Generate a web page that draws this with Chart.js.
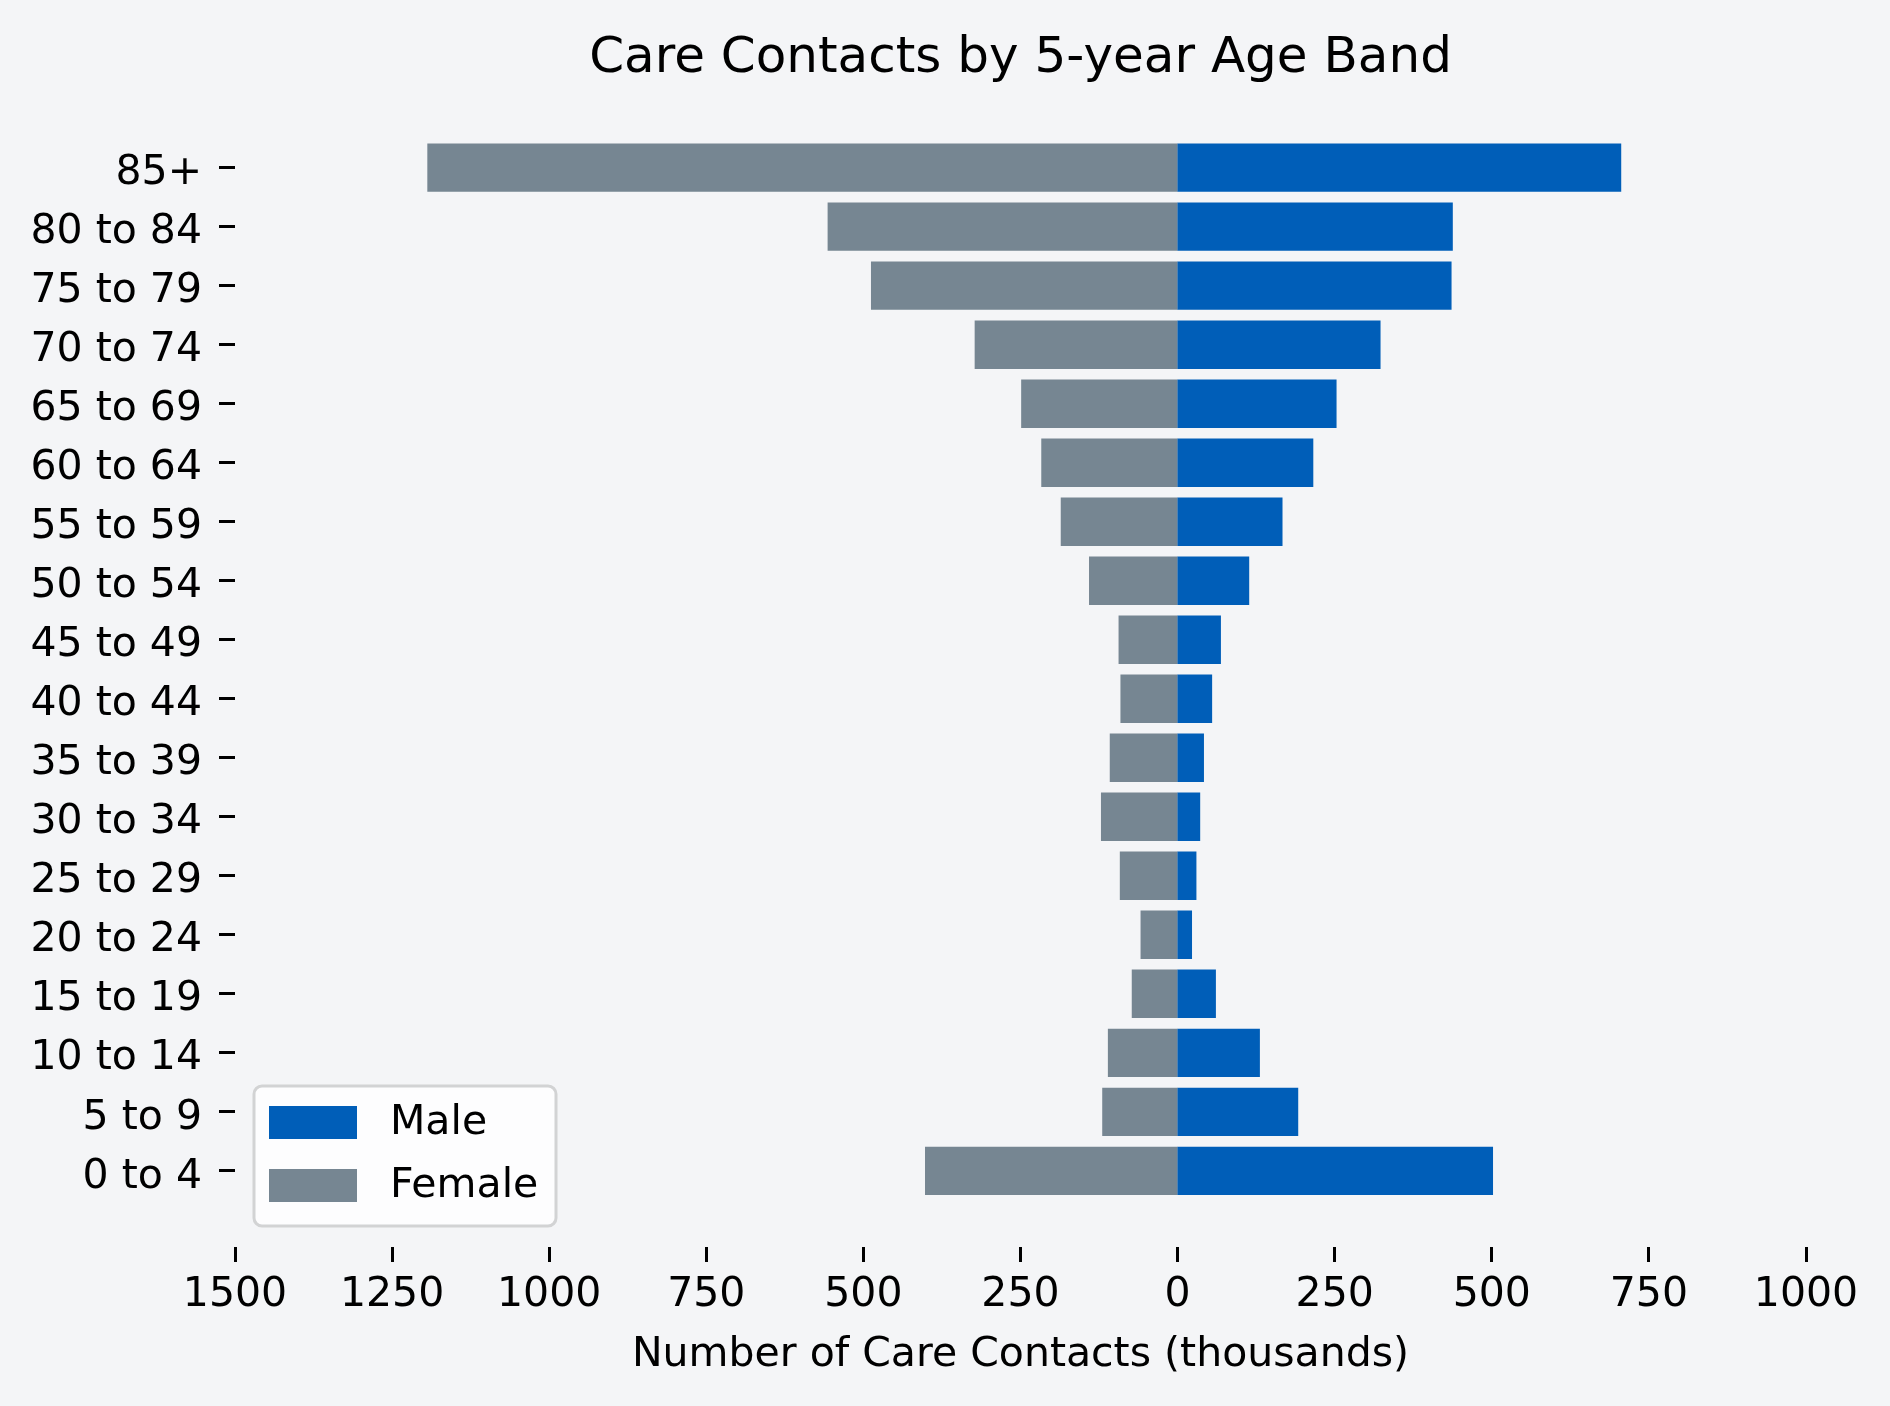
<!DOCTYPE html>
<html>
<head>
<meta charset="utf-8">
<script src="https://cdn.jsdelivr.net/npm/chart.js@4.4.1/dist/chart.umd.min.js"></script>
<style>
  html, body { margin: 0; padding: 0; background: #f4f5f7; }
  canvas { display: block; }
</style>
</head>
<body>
<canvas id="grafico" width="1890" height="1406"></canvas>
<script>
// faixas etárias, de baixo para cima
const ageBands = ["0 to 4", "5 to 9", "10 to 14", "15 to 19", "20 to 24", "25 to 29", "30 to 34",
  "35 to 39", "40 to 44", "45 to 49", "50 to 54", "55 to 59", "60 to 64", "65 to 69",
  "70 to 74", "75 to 79", "80 to 84", "85+"];
const maleContacts = [501, 191, 130, 60, 22, 29, 35, 41, 54, 68, 113, 166, 215, 252, 322, 435, 437, 705];
const femaleContacts = [401, 119, 110, 72, 58, 91, 121, 107, 90, 93, 140, 185, 216, 248, 322, 487, 556, 1193];
const xTicks = [-1500, -1250, -1000, -750, -500, -250, 0, 250, 500, 750, 1000];

const FONTE = "'DejaVu Sans', sans-serif";
const BG = "#f4f5f7";

// fundo da figura
const fundo = {
  id: "fundo",
  beforeDraw(chart) {
    const ctx = chart.ctx;
    ctx.save();
    ctx.fillStyle = BG;
    ctx.fillRect(0, 0, chart.width, chart.height);
    ctx.restore();
  }
};

// legenda dentro da área do gráfico, canto inferior esquerdo
const legendaInterna = {
  id: "legendaInterna",
  afterDraw(chart) {
    const ctx = chart.ctx;
    const x = 254, y = 1086, w = 302, h = 140, r = 8;
    ctx.save();
    ctx.beginPath();
    ctx.roundRect(x, y, w, h, r);
    ctx.fillStyle = "rgba(255,255,255,0.8)";
    ctx.fill();
    ctx.lineWidth = 3;
    ctx.strokeStyle = "#d2d3d4";
    ctx.stroke();
    ctx.font = "41px " + FONTE;
    ctx.textBaseline = "middle";
    ctx.textAlign = "left";
    chart.data.datasets.forEach((ds, i) => {
      const py = 1106 + i * 63;
      ctx.fillStyle = ds.backgroundColor;
      ctx.fillRect(269, py, 88, 33);
      ctx.fillStyle = "#000";
      ctx.fillText(ds.label, 390, py + 17);
    });
    ctx.restore();
  }
};

new Chart(document.getElementById("grafico"), {
  type: "bar",
  data: {
    datasets: [
      {
        label: "Male",
        data: maleContacts.map((v, i) => ({ x: v, y: i })),
        backgroundColor: "#005eb8"
      },
      {
        label: "Female",
        data: femaleContacts.map((v, i) => ({ x: -v, y: i })),
        backgroundColor: "#768692"
      }
    ]
  },
  options: {
    indexAxis: "y",
    responsive: false,
    animation: false,
    devicePixelRatio: 1,
    layout: { padding: { left: 0, right: 84, top: 0, bottom: 0 } },
    datasets: { bar: { grouped: false, categoryPercentage: 1, barPercentage: 0.8, inflateAmount: 0.6 } },
    scales: {
      x: {
        type: "linear",
        min: -1500,
        max: 1000,
        afterBuildTicks: s => { s.ticks = xTicks.map(v => ({ value: v })); },
        afterFit: s => { s.height = 159; },
        ticks: {
          color: "#000",
          font: { family: FONTE, size: 41 },
          padding: 9,
          maxRotation: 0,
          callback: v => String(Math.abs(v))
        },
        grid: { drawOnChartArea: false, drawTicks: true, tickLength: 15, tickWidth: 3, tickColor: "#000" },
        border: { display: false },
        title: {
          display: true,
          text: "Number of Care Contacts (thousands)",
          color: "#000",
          font: { family: FONTE, size: 41 },
          padding: { top: 0, bottom: 26 }
        }
      },
      // eixo superior só para o título, centrado sobre a área do gráfico
      xTop: {
        type: "linear",
        position: "top",
        min: -1500,
        max: 1000,
        afterFit: s => { s.height = 91.5; },
        ticks: { display: false },
        grid: { display: false },
        border: { display: false },
        title: {
          display: true,
          text: "Care Contacts by 5-year Age Band",
          color: "#000",
          font: { family: FONTE, size: 50 },
          padding: { top: 29, bottom: 0 }
        }
      },
      y: {
        type: "linear",
        offset: false,
        min: -1.29,
        max: 18.29,
        afterBuildTicks: s => { s.ticks = ageBands.map((_, i) => ({ value: i })); },
        afterFit: s => { s.width = 235; },
        ticks: {
          color: "#000",
          font: { family: FONTE, size: 41 },
          padding: 17,
          labelOffset: 6,
          callback: v => ageBands[v]
        },
        grid: { offset: false, drawOnChartArea: false, drawTicks: true, tickLength: 16, tickWidth: 3, tickColor: "#000" },
        border: { display: false }
      }
    },
    plugins: {
      legend: { display: false },
      tooltip: { enabled: false },
      title: { display: false }
    }
  },
  plugins: [fundo, legendaInterna]
});
</script>
</body>
</html>
